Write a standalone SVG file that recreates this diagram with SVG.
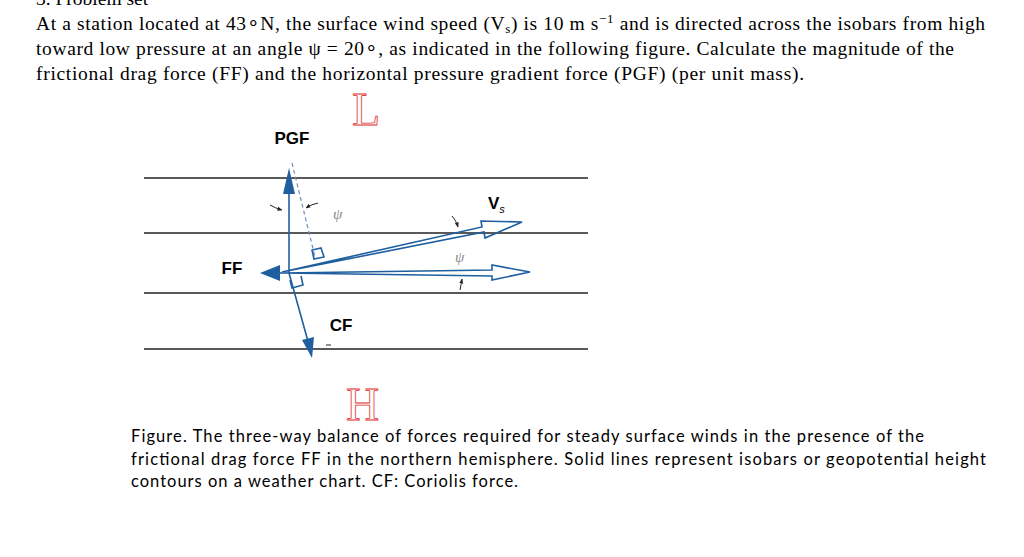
<svg xmlns="http://www.w3.org/2000/svg" width="1024" height="557" viewBox="0 0 1024 557">
<style>
.t{font-family:"Liberation Serif",serif;font-size:19.5px;fill:#000}
.c{font-family:Lato,"Liberation Sans",sans-serif;font-size:16.5px;fill:#000}
.lb{font-family:"Liberation Sans",Arial,sans-serif;font-size:17px;font-weight:bold;fill:#000}
.iso{stroke:#222;stroke-width:1.5}
.b{stroke:#1f5fa0;stroke-width:1.6;fill:none}
.psi{font-family:"Liberation Serif",serif;font-style:italic;font-size:15px;fill:#888}
.big{font-family:"Liberation Serif",serif;font-size:46px;fill:none;stroke:#e03030;stroke-width:0.8}
</style>
<defs>
<marker id="sm" viewBox="0 0 10 10" refX="9" refY="5" markerWidth="5" markerHeight="5" orient="auto"><path d="M0,1 L10,5 L0,9 Z" fill="#222"/></marker>
</defs>
<rect width="1024" height="557" fill="#fff"/>
<text class="t" x="36" y="5">3. Problem set</text>
<text class="t" x="36" y="30" textLength="949">At a station located at 43∘N, the surface wind speed (V<tspan font-size="13" dy="3">s</tspan><tspan dy="-3">) is 10 m s</tspan><tspan font-size="13" dy="-7">−1</tspan><tspan dy="7"> and is directed across the isobars from high</tspan></text>
<text class="t" x="36" y="55" textLength="918">toward low pressure at an angle ψ = 20∘, as indicated in the following figure. Calculate the magnitude of the</text>
<text class="t" x="36" y="80" textLength="768">frictional drag force (FF) and the horizontal pressure gradient force (PGF) (per unit mass).</text>
<text class="big" x="352" y="125">L</text>
<text class="big" x="346" y="420">H</text>
<g id="isobars">
<line class="iso" x1="144" y1="178" x2="588" y2="178"/>
<line class="iso" x1="144" y1="233" x2="588" y2="233" stroke="#888"/>
<line class="iso" x1="144" y1="293" x2="588" y2="293"/>
<line class="iso" x1="144" y1="349" x2="588" y2="349"/>
</g>
<g id="connectors">
<line class="b" x1="289" y1="273" x2="289" y2="190"/>
<path d="M289,168 L295,194 L283,194 Z" fill="#1f5fa0"/>
<line x1="292" y1="163" x2="315" y2="257" stroke="#6a8fc0" stroke-width="1.2" stroke-dasharray="4,3"/>
<line class="b" x1="282" y1="273" x2="275" y2="273"/>
<path d="M260,273 L280,265 L280,281 Z" fill="#1f5fa0"/>
<line class="b" x1="289" y1="273" x2="309" y2="345"/>
<path d="M312,358 L302,340 L314,337 Z" fill="#1f5fa0"/>
<path class="b" d="M282,272 L484,232 L485,238 L522,222 L481,221 L482,227 Z" stroke-width="1.2"/>
<path class="b" d="M282,273 L492,270 L492,265 L530,272 L492,280 L492,276 Z" stroke-width="1.2"/>
<path class="b" d="M314,259 L312,250 L321,248 L324,257 Z" stroke-width="1.3"/>
<path class="b" d="M290,280 L292,288 L303,285 L301,276" stroke-width="1.3"/>
<path d="M270,205 Q275,208 282,210" stroke="#222" fill="none" stroke-width="1" marker-end="url(#sm)"/>
<path d="M318,203 Q312,204 306,208" stroke="#222" fill="none" stroke-width="1" marker-end="url(#sm)"/>
<path d="M452,216 Q456,220 458,227" stroke="#222" fill="none" stroke-width="1" marker-end="url(#sm)"/>
<path d="M460,290 Q461,285 462,279" stroke="#222" fill="none" stroke-width="1" marker-end="url(#sm)"/>
<line x1="326" y1="345" x2="331" y2="345" stroke="#222" stroke-width="1"/>
</g>
<g id="labels">
<text class="lb" x="292" y="144" text-anchor="middle">PGF</text>
<text class="lb" x="232" y="274" text-anchor="middle">FF</text>
<text class="lb" x="341" y="331" text-anchor="middle">CF</text>
<text class="lb" x="488" y="209">V<tspan font-size="11" font-style="italic" font-weight="normal" dy="4">s</tspan></text>
<text class="psi" x="333" y="219">ψ</text>
<text class="psi" x="455" y="262">ψ</text>
</g>
<text class="c" x="131" y="442" textLength="793">Figure. The three-way balance of forces required for steady surface winds in the presence of the</text>
<text class="c" x="131" y="465" textLength="855">frictional drag force FF in the northern hemisphere. Solid lines represent isobars or geopotential height</text>
<text class="c" x="131" y="487" textLength="387">contours on a weather chart. CF: Coriolis force.</text>
</svg>
